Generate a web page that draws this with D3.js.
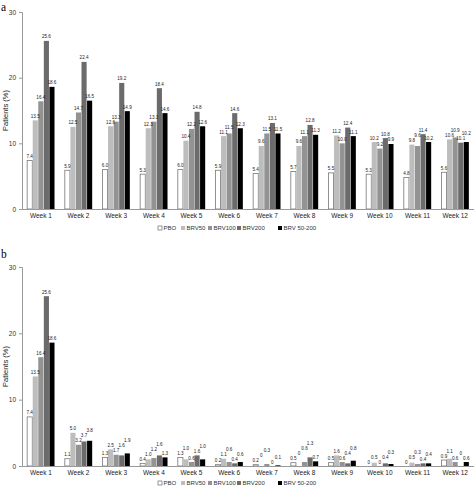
<!DOCTYPE html>
<html>
<head>
<meta charset="utf-8">
<script src="https://cdnjs.cloudflare.com/ajax/libs/d3/7.8.5/d3.min.js"></script>
<style>
  body { margin: 0; background: #fff; }
  svg { display: block; }
</style>
</head>
<body>
<div id="chart"></div>
<script>
// categories and series
const weeks = ["Week 1", "Week 2", "Week 3", "Week 4", "Week 5", "Week 6",
  "Week 7", "Week 8", "Week 9", "Week 10", "Week 11", "Week 12"];
const seriesNames = ["PBO", "BRV50", "BRV100", "BRV200", "BRV 50-200"];
const seriesColors = ["#ffffff", "#bdbdbd", "#939393", "#6b6b6b", "#000000"];
const yTicks = [0, 10, 20, 30];

// panel a values, one array per series
const aPBO = [7.4, 5.9, 6.0, 5.3, 6.0, 5.9, 5.4, 5.7, 5.5, 5.3, 4.8, 5.6];
const aBRV50 = [13.5, 12.5, 12.6, 12.3, 10.4, 11.1, 9.6, 9.6, 11.2, 10.2, 9.8, 10.6];
const aBRV100 = [16.4, 14.7, 13.3, 13.3, 12.2, 11.5, 11.5, 11.1, 10.0, 9.2, 9.6, 10.9];
const aBRV200 = [25.6, 22.4, 19.2, 18.4, 14.8, 14.6, 13.1, 12.8, 12.4, 10.8, 11.4, 10.1];
const aBRV50200 = [18.6, 16.5, 14.9, 14.6, 12.6, 12.3, 11.5, 11.3, 11.1, 9.9, 10.2, 10.2];

// panel b values
const bPBO = [7.4, 1.1, 1.3, 0.4, 1.3, 0.2, 0.2, 0.5, 0.5, 0, 0, 0.9];
const bBRV50 = [13.5, 5.0, 2.5, 1.0, 1.0, 1.1, 0, 0, 1.6, 0.5, 0.5, 1.1];
const bBRV100 = [16.4, 3.2, 1.7, 1.2, 0.6, 0.6, 0.3, 0.6, 0.6, 0, 0.3, 0.6];
const bBRV200 = [25.6, 3.7, 1.6, 1.6, 1.6, 0.4, 0, 1.3, 0.4, 0.4, 0.4, 0];
const bBRV50200 = [18.6, 3.8, 1.9, 1.3, 1.0, 0.6, 0.1, 0.7, 0.8, 0.3, 0.4, 0.6];

const FONT = "Liberation Sans, Arial, sans-serif";
const width = 474, height = 487;
const svg = d3.select("#chart").append("svg")
  .attr("width", width)
  .attr("height", height)
  .attr("font-family", FONT);

function fmt(v) {
  return v === 0 ? "0" : v.toFixed(1);
}

function drawPanel(label, seriesValues, top, bottom, legendY) {
  const g = svg.append("g");

  const x0 = d3.scaleBand()
    .domain(weeks)
    .range([22, 474])
    .paddingInner(0.25)
    .paddingOuter(0.125);

  const x1 = d3.scaleBand()
    .domain(seriesNames)
    .range([0, x0.bandwidth()])
    .padding(0.08);

  const y = d3.scaleLinear()
    .domain([0, 30])
    .range([bottom, top]);

  // panel letter
  g.append("text")
    .attr("x", 1)
    .attr("y", Math.max(top - 9, 11))
    .attr("font-family", "Liberation Serif, serif")
    .attr("font-size", 11.5)
    .text(label);

  // y axis
  const yAxis = g.append("g")
    .attr("transform", "translate(22,0)")
    .call(d3.axisLeft(y).tickValues(yTicks).tickSize(3).tickPadding(3))
    .attr("font-family", FONT);
  yAxis.select(".domain").attr("stroke", "#999");
  yAxis.selectAll(".tick line").attr("stroke", "#999");
  yAxis.selectAll(".tick text")
    .attr("font-size", 6.5)
    .attr("fill", "#333");

  g.append("text")
    .attr("transform", `translate(8,${(top + bottom) / 2}) rotate(-90)`)
    .attr("text-anchor", "middle")
    .attr("font-size", 7.5)
    .attr("fill", "#222")
    .text("Patients (%)");

  // rows of data, one per week; label heights staggered so neighbours don't collide
  const rows = weeks.map((w, i) => {
    const vals = seriesNames.map((s, j) => ({ name: s, j: j, value: seriesValues[j][i] }));
    vals.forEach((d, j) => {
      d.ly = y(d.value) - 2.5;
      if (j > 0 && Math.abs(d.ly - vals[j - 1].ly) < 5) {
        d.ly = vals[j - 1].ly - 5;
      }
    });
    return { week: w, vals: vals };
  });

  const groups = g.selectAll("g.week")
    .data(rows)
    .enter()
    .append("g")
    .attr("class", "week")
    .attr("transform", d => `translate(${x0(d.week)},0)`);

  groups.selectAll("rect")
    .data(d => d.vals)
    .enter()
    .append("rect")
    .attr("x", d => x1(d.name))
    .attr("y", d => y(d.value))
    .attr("width", x1.bandwidth())
    .attr("height", d => bottom - y(d.value))
    .attr("fill", d => seriesColors[d.j])
    .attr("stroke", d => d.j === 0 ? "#777" : "none")
    .attr("stroke-width", 0.8);

  groups.selectAll("text.val")
    .data(d => d.vals)
    .enter()
    .append("text")
    .attr("class", "val")
    .attr("x", d => x1(d.name) + x1.bandwidth() / 2)
    .attr("y", d => d.ly)
    .attr("text-anchor", "middle")
    .attr("font-size", 4.6)
    .attr("fill", "#222")
    .text(d => fmt(d.value));

  // x axis
  const xAxis = g.append("g")
    .attr("transform", `translate(0,${bottom})`)
    .call(d3.axisBottom(x0).tickSize(0).tickPadding(4))
    .attr("font-family", FONT);
  xAxis.select(".domain").attr("stroke", "#999").attr("stroke-width", 1.2);
  xAxis.selectAll(".tick text")
    .attr("font-size", 6.5)
    .attr("fill", "#222");

  // legend
  const legend = g.append("g")
    .attr("transform", `translate(158,${legendY})`);
  const offsets = [0, 23, 50, 79, 120];
  seriesNames.forEach((s, j) => {
    const item = legend.append("g").attr("transform", `translate(${offsets[j]},0)`);
    item.append("rect")
      .attr("x", 0)
      .attr("y", -4)
      .attr("width", 4)
      .attr("height", 4)
      .attr("fill", seriesColors[j])
      .attr("stroke", j === 0 ? "#555" : "none")
      .attr("stroke-width", 0.6);
    item.append("text")
      .attr("x", 5.5)
      .attr("y", 0)
      .attr("font-size", 6)
      .attr("fill", "#333")
      .text(s);
  });
}

drawPanel("a", [aPBO, aBRV50, aBRV100, aBRV200, aBRV50200], 12, 209, 230);
drawPanel("b", [bPBO, bBRV50, bBRV100, bBRV200, bBRV50200], 267, 466, 485);
</script>
</body>
</html>
